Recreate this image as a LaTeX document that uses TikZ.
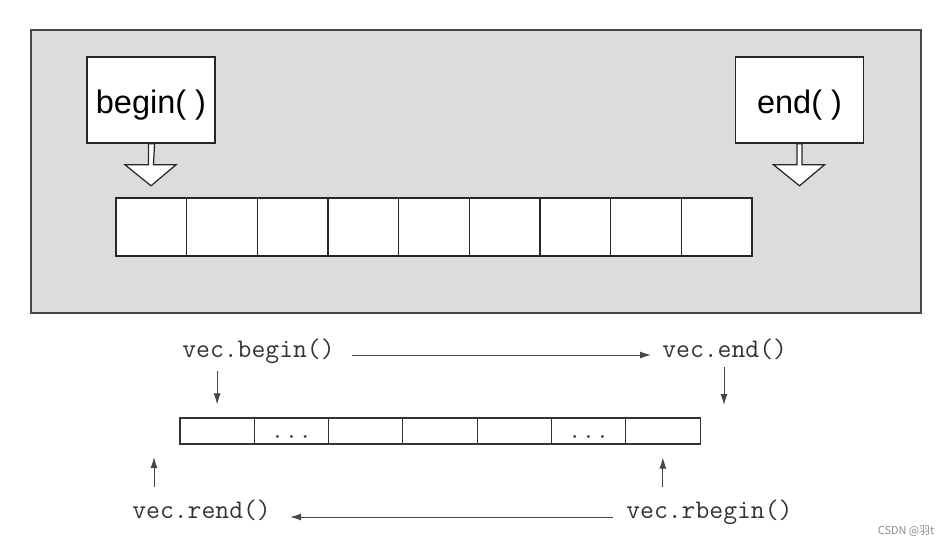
\documentclass[tikz,border=0pt]{standalone}
\usepackage{fontspec}
\setmainfont{Liberation Sans}
\newfontfamily\cjk{Noto Sans CJK SC}
\usetikzlibrary{positioning,arrows.meta}
\definecolor{panelgray}{RGB}{220,220,220}
\definecolor{linegray}{RGB}{70,70,70}

\begin{document}
\begin{tikzpicture}[x=0.02cm,y=-0.02cm,
    panel/.style={draw=linegray,fill=panelgray,line width=0.9pt},
    iterbox/.style={draw=black!85,fill=white,line width=0.9pt,minimum width=2.56cm,minimum height=1.72cm,inner sep=0pt,text height=0.6cm,text depth=0.08cm,font=\fontsize{18.5}{20}\selectfont},
    hollow/.style={draw=black!85,fill=white,line width=0.7pt,line join=miter},
    bigcell/.style={draw=black!85,fill=white,line width=0.8pt,minimum width=1.413cm,minimum height=1.16cm,inner sep=0pt},
    cell/.style={draw=black!80,fill=white,line width=0.6pt,minimum width=1.486cm,minimum height=0.52cm,inner sep=0pt},
    code/.style={inner sep=0pt,anchor=base west,font=\ttfamily\fontsize{15.3}{16}\selectfont,text=black!80},
    ptr/.style={draw=linegray,line width=0.55pt,-{Latex[length=2.2mm,width=1.4mm]}}]
  \useasboundingbox (0,0) rectangle (947,545);
  % upper panel
  \draw[panel] (31,30) rectangle (921,313);
  \node[iterbox] (begbox) at (151,100) {begin( )};
  \node[iterbox] (endbox) at (799.5,100) {end( )};
  \foreach \i in {1,...,9}
    \node[bigcell] (b\i) at ({116+70.67*(\i-0.5)},227) {};
  \draw[hollow] ([xshift=-0.05cm]begbox.south) -- ++(0,21) -- ++(-23.5,0) -- ++(26,21)
    -- ++(25,-21) -- ++(-22.5,0) -- (begbox.south -| 154.5,0) -- cycle;
  \draw[hollow] ([xshift=-0.05cm]endbox.south) -- ++(0,21) -- ++(-23.5,0) -- ++(26,21)
    -- ++(25,-21) -- ++(-22.5,0) -- (endbox.south -| 802,0) -- cycle;
  % lower array
  \foreach \i in {1,...,7}
    \node[cell] (c\i) at ({180+74.29*(\i-0.5)},431) {};
  \node[code,anchor=base,text=black!70] (dots1) at ([yshift=-0.14cm]c2) {...};
  \node[code,anchor=base,text=black!70] (dots2) at ([yshift=-0.14cm]c6) {...};
  \coordinate (pastend) at (724,418);
  \coordinate (prebeg) at (154,444);
  % labels
  \node[code] (vbeg) at (182,357) {vec.begin()};
  \node[code] (vend) at (662,357) {vec.end()};
  \node[code] (vrend) at (132,518) {vec.rend()};
  \node[code] (vrbeg) at (626,518) {vec.rbegin()};
  % connectors
  \draw[ptr,shorten <=0.34cm,shorten >=0.22cm] ([yshift=0.04cm]vbeg.base east) -- ([yshift=0.04cm]vend.base west);
  \draw[ptr,shorten <=0.26cm,shorten >=0.38cm] ([yshift=0.02cm]vrbeg.base west) -- ([yshift=0.02cm]vrend.base east);
  \draw[ptr,shorten <=0.14cm,shorten >=0.26cm] (vbeg.south -| c1) -- (c1.north);
  \draw[ptr,shorten <=0.14cm,shorten >=0.26cm] (vend.south -| pastend) -- (pastend);
  \draw[ptr,shorten <=0.24cm,shorten >=0.26cm] (vrend.north -| prebeg) -- (prebeg);
  \draw[ptr,shorten <=0.24cm,shorten >=0.26cm] (vrbeg.north -| c7) -- (c7.south);
  % watermark
  \node[text=black!45,font=\cjk\fontsize{6.2}{7}\selectfont,inner sep=0pt] (mark) at (906,531) {CSDN @羽t};
\end{tikzpicture}
\end{document}
